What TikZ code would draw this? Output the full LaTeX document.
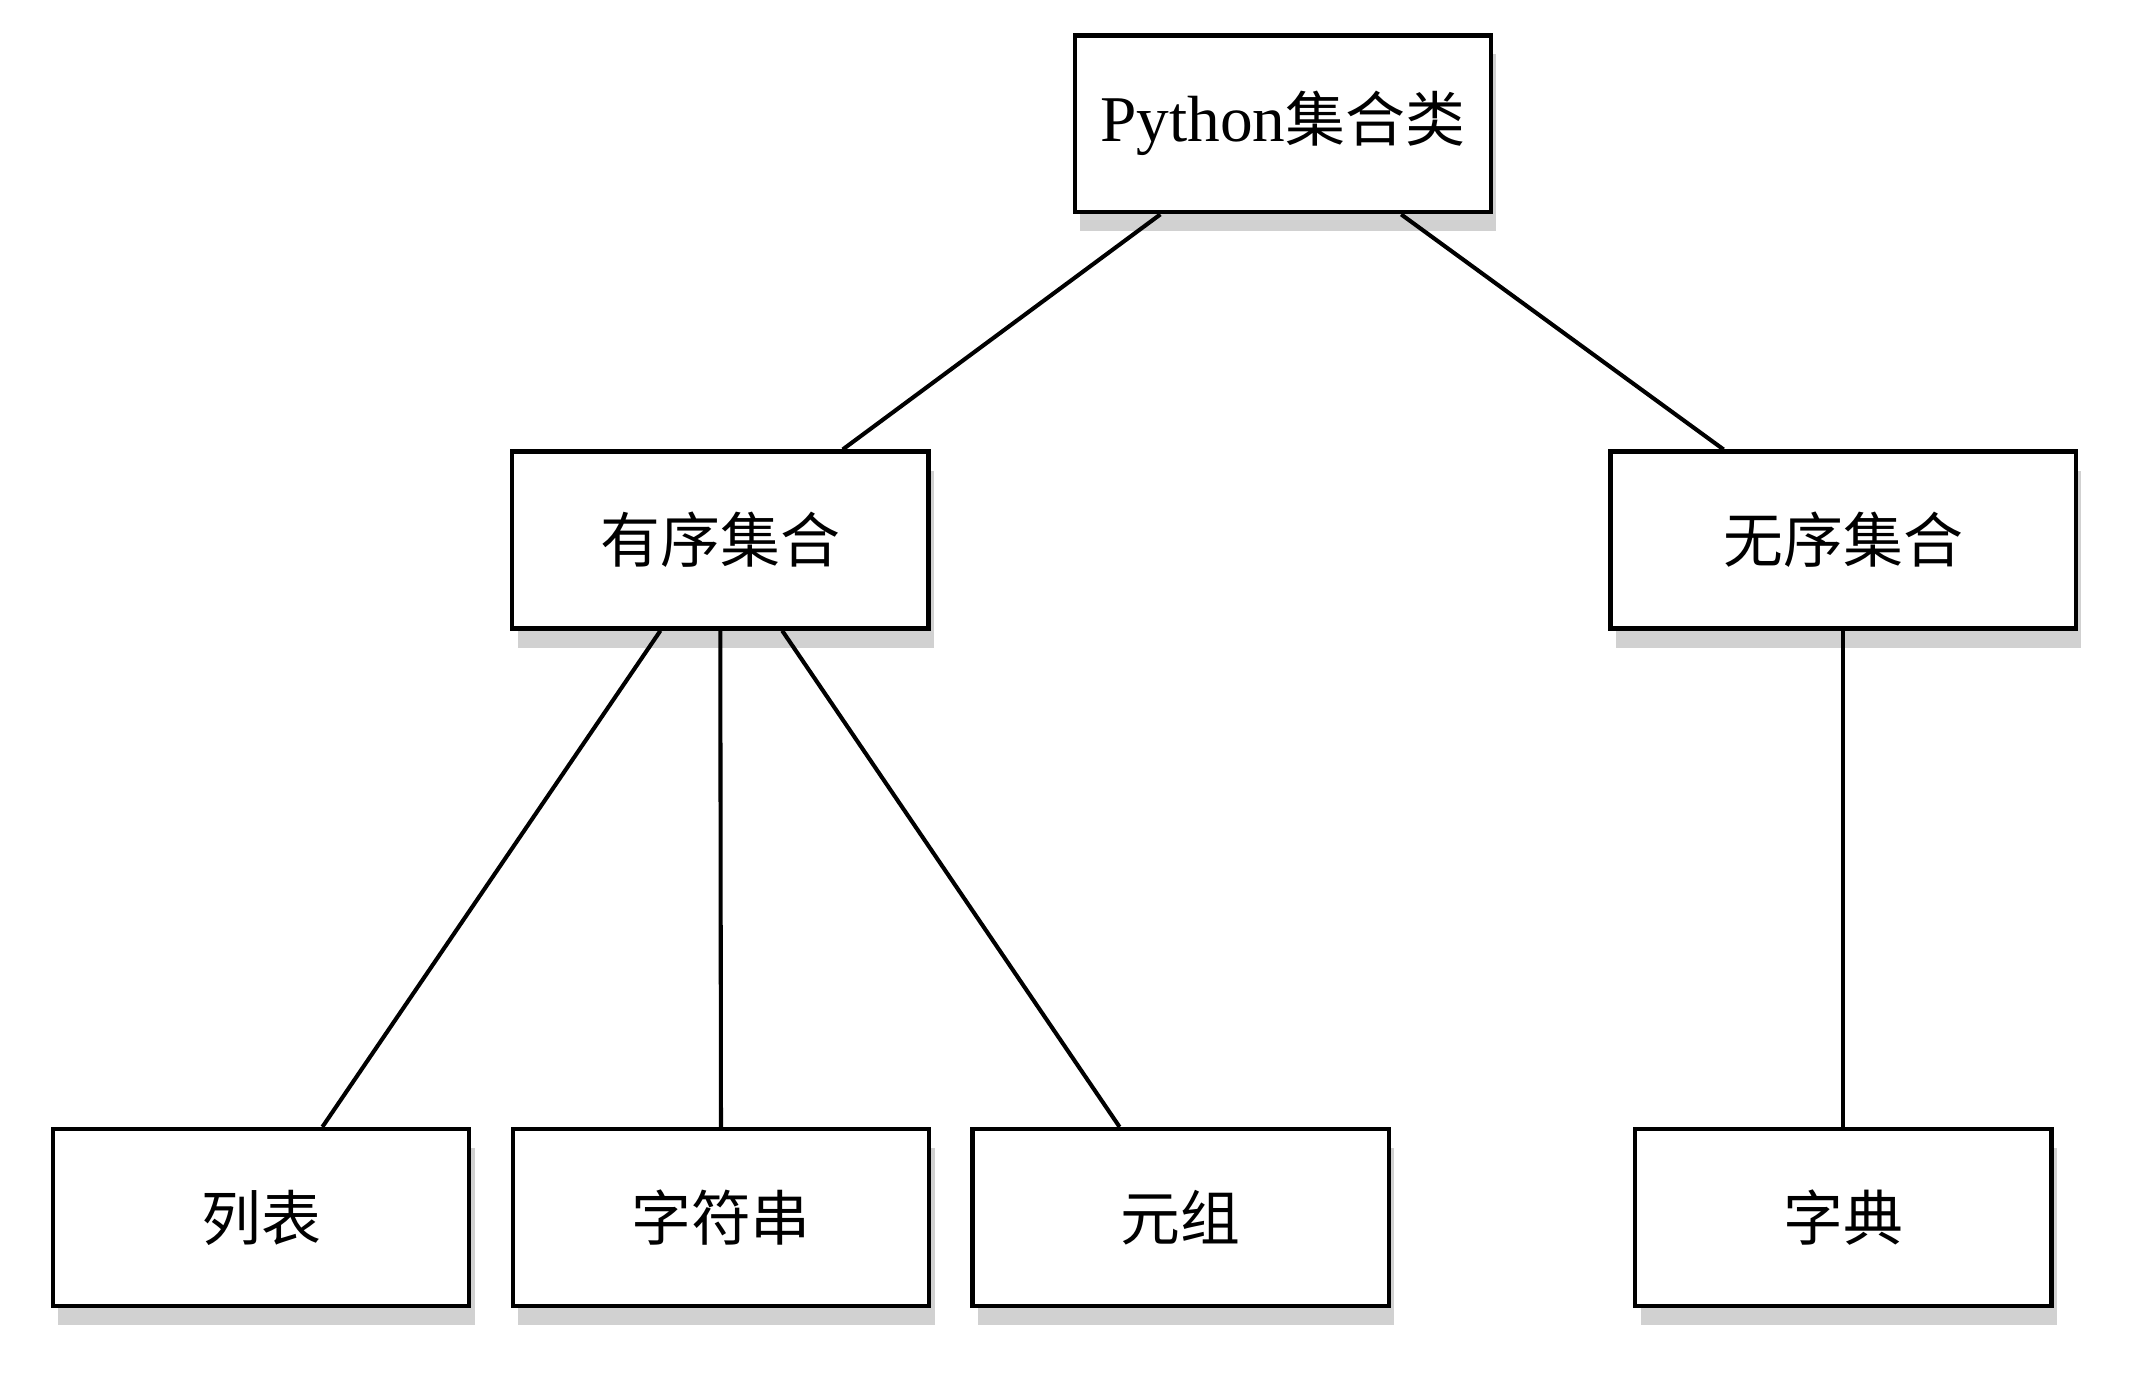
\documentclass[tikz,border=0pt]{standalone}
\usepackage{fontspec}
\setmainfont{Liberation Serif}
\newfontfamily\cjk{Noto Sans CJK SC}
\usetikzlibrary{shadows}
\begin{document}
\begin{tikzpicture}[x=0.5pt,y=-0.5pt,
  boxn/.style={draw,line width=1.6pt,fill=white,minimum width=153pt,minimum height=65pt,inner sep=0pt,font=\fontsize{22}{26}\selectfont\cjk,
    drop shadow={shadow xshift=2pt,shadow yshift=-7pt,opacity=0.18,fill=black}},
  link/.style={line width=1.5pt}]
\useasboundingbox (0,0) rectangle (1568,1016);
\node[boxn] (top) at (943,91) {{\fontsize{24}{28}\selectfont\rmfamily Python}集合类};
\node[boxn] (ord) at (529.5,397) {有序集合};
\node[boxn,minimum width=171pt] (uno) at (1355,397) {无序集合};
\node[boxn] (lst) at (192,895) {列表};
\node[boxn] (str) at (530,895) {字符串};
\node[boxn] (tup) at (868,895) {元组};
\node[boxn] (dic) at (1355,895) {字典};
\draw[link] ([xshift=-45pt]top.south) -- ([xshift=45pt]ord.north);
\draw[link] ([xshift=43.5pt]top.south) -- ([xshift=-44pt]uno.north);
\draw[link] ([xshift=-22pt]ord.south) -- ([xshift=22.5pt]lst.north);
\draw[link] (ord.south) -- (str.north);
\draw[link] ([xshift=22.75pt]ord.south) -- ([xshift=-22.5pt]tup.north);
\draw[link] (uno.south) -- (dic.north);
\end{tikzpicture}
\end{document}
